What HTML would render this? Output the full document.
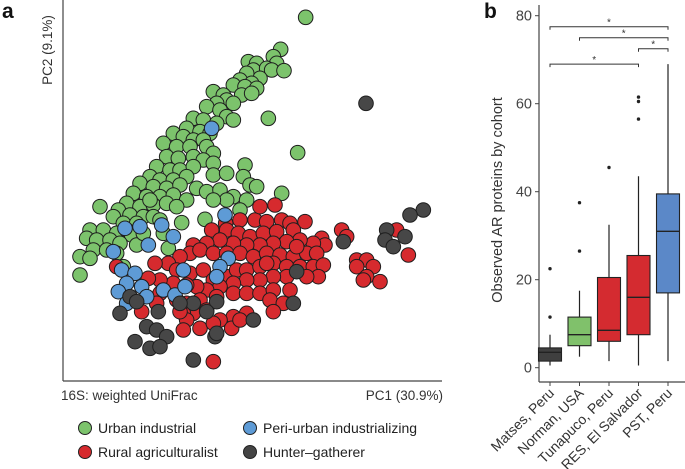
<!DOCTYPE html>
<html><head><meta charset="utf-8"><style>
html,body{margin:0;padding:0;background:#fff;}
svg{display:block;font-family:"Liberation Sans",sans-serif;}
</style></head><body>
<svg id="fig" width="685" height="469" viewBox="0 0 685 469">
<text x="2" y="18" font-size="21" font-weight="bold" fill="#111">a</text>
<text x="484" y="18" font-size="21" font-weight="bold" fill="#111">b</text>
<g id="scatter"></g>
<line x1="63" y1="0" x2="63" y2="381" stroke="#444" stroke-width="1.2"/>
<line x1="63" y1="381" x2="442" y2="381" stroke="#444" stroke-width="1.2"/>
<text transform="translate(52,50) rotate(-90)" text-anchor="middle" font-size="13.5" fill="#333">PC2 (9.1%)</text>
<text x="61" y="400" font-size="13.5" fill="#333">16S: weighted UniFrac</text>
<text x="443" y="400" text-anchor="end" font-size="13.5" fill="#333">PC1 (30.9%)</text>
<g>
<g><circle cx="85" cy="428" r="6.5" fill="#7cc36c" stroke="#222"/><text x="98" y="433" font-size="14" fill="#222">Urban industrial</text></g>
<g><circle cx="250" cy="428" r="6.5" fill="#5e9bd6" stroke="#222"/><text x="263" y="433" font-size="14" fill="#222">Peri-urban industrializing</text></g>
<g><circle cx="85" cy="452" r="6.5" fill="#d62a2e" stroke="#222"/><text x="98" y="457" font-size="14" fill="#222">Rural agriculturalist</text></g>
<g><circle cx="250" cy="452" r="6.5" fill="#444" stroke="#222"/><text x="263" y="457" font-size="14" fill="#222">Hunter–gatherer</text></g>
</g>
<g id="box"></g>
<text transform="translate(502,200) rotate(-90)" text-anchor="middle" font-size="14.5" fill="#333">Observed AR proteins by cohort</text>
</svg>
<script>
// Scatter data (PC1, PC2 in arbitrary plot units)
const greenPts=[[737,52],[662,148],[640,170],[650,190],[565,185],[590,190],[580,210],[620,205],[635,210],[672,212],[600,235],[560,220],[540,240],[575,250],[520,255],[555,260],[590,265],[460,275],[490,285],[545,285],[575,280],[500,300],[470,310],[440,320],[520,310],[480,330],[500,350],[400,355],[430,360],[470,370],[520,360],[625,355],[380,385],[420,395],[450,400],[340,400],[370,410],[400,420],[430,420],[310,430],[350,440],[390,440],[440,440],[460,460],[320,470],[355,475],[400,470],[430,480],[713,458],[290,500],[330,510],[360,510],[400,500],[460,490],[555,495],[270,530],[300,540],[340,540],[380,530],[460,525],[500,520],[240,550],[280,560],[320,565],[360,555],[550,530],[570,555],[220,580],[260,590],[300,590],[340,585],[410,565],[440,575],[480,570],[590,560],[200,610],[240,620],[280,615],[320,610],[520,590],[560,600],[665,580],[175,630],[210,645],[250,650],[540,630],[120,620],[160,650],[190,670],[230,670],[365,668],[435,658],[90,690],[130,690],[170,700],[200,690],[240,695],[80,715],[110,720],[150,720],[215,705],[325,745],[60,770],[100,750],[140,750],[180,730],[230,735],[90,775],[170,760],[60,825],[190,800],[310,700],[500,600],[460,600],[250,700],[280,650],[300,660],[270,600],[380,600],[350,620]];
const redPts=[[645,615],[497,670],[540,660],[585,660],[620,665],[665,660],[690,670],[735,665],[455,690],[500,690],[535,700],[570,710],[610,700],[650,695],[700,690],[845,690],[860,710],[785,715],[795,735],[760,730],[720,720],[680,725],[640,730],[600,735],[560,735],[520,730],[480,720],[440,730],[400,735],[390,760],[420,750],[460,760],[500,760],[540,760],[580,770],[620,760],[660,765],[700,770],[740,760],[770,760],[1010,690],[1045,765],[890,780],[920,780],[890,800],[940,800],[920,830],[960,845],[910,840],[360,770],[325,790],[285,790],[350,810],[390,820],[430,810],[460,840],[500,830],[530,810],[560,810],[600,800],[640,790],[680,800],[720,800],[760,800],[790,795],[775,830],[740,830],[680,830],[640,830],[600,840],[560,840],[520,850],[480,860],[440,870],[410,860],[380,855],[340,850],[300,840],[265,835],[170,800],[300,880],[350,900],[380,910],[420,900],[470,890],[520,880],[560,880],[600,880],[640,870],[690,870],[630,900],[670,910],[640,935],[560,940],[520,950],[480,960],[440,930],[400,940],[370,940],[380,960],[370,990],[420,985],[460,970],[515,985],[540,960],[360,935],[245,935],[290,910],[460,1085],[620,790],[710,740],[600,620]];
const bluePts=[[455,385],[495,645],[195,685],[240,680],[305,675],[340,710],[265,735],[160,755],[505,775],[480,800],[185,810],[225,820],[200,850],[175,875],[245,860],[200,910],[260,890],[310,870],[345,885],[375,860],[370,810],[470,830]];
const grayPts=[[918,310],[1090,630],[1050,645],[980,690],[1035,710],[975,720],[1000,740],[850,725],[710,815],[700,910],[580,960],[470,905],[440,935],[400,910],[210,890],[230,905],[180,940],[295,935],[260,980],[290,990],[320,1010],[225,1025],[270,1045],[300,1040],[465,1010],[400,1080],[360,910],[470,1000]];

// Boxplot data
const cohorts=["Matses, Peru","Norman, USA","Tunapuco, Peru","RES, El Salvador","PST, Peru"];
const q1=[1.5,5,6,7.5,17];
const med=[3.5,7.5,8.5,16,31];
const q3=[4.5,11.5,20.5,25.5,39.5];
const whiskLo=[0.5,2.5,1.5,0.5,1.5];
const whiskHi=[7.5,17.5,32.5,43.5,69];
const outliers=[[11.5,22.5],[26.5,37.5],[45.5],[56.5,60.5,61.5],[]];
const yTicks=[0,20,40,60,80];
const sigPairs=[[0,4,77.5],[1,4,75],[3,4,72.5],[0,3,69]];

const NS="http://www.w3.org/2000/svg";
function mk(tag,attrs,parent){const e=document.createElementNS(NS,tag);for(const k in attrs)e.setAttribute(k,attrs[k]);parent.appendChild(e);return e;}

const sx=v=>60+v/3;
const sy=v=>v/3;
const sc=document.getElementById('scatter');
const groups=[[greenPts,'#7cc36c','urban-industrial'],[redPts,'#d62a2e','rural-agriculturalist'],[bluePts,'#5e9bd6','peri-urban'],[grayPts,'#474747','hunter-gatherer']];
groups.forEach(([pts,col,nm])=>{
  pts.forEach(p=>{
    const c=mk('circle',{cx:sx(p[0]),cy:sy(p[1]),r:7.3,fill:col,stroke:'#1e1e1e','stroke-width':1},sc);
    
    
  });
});

const bx=document.getElementById('box');
const by=v=>367.7-v*4.4;
const bxc=i=>550+i*29.5;
const boxCols=['#3f3f3f','#80c16b','#d42b30','#d42b30','#5b88c8'];
mk('line',{x1:539,y1:5,x2:539,y2:382,stroke:'#444','stroke-width':1.2},bx);
mk('line',{x1:539,y1:382,x2:685,y2:382,stroke:'#444','stroke-width':1.2},bx);
yTicks.forEach(t=>{
  mk('line',{x1:535,y1:by(t),x2:539,y2:by(t),stroke:'#444'},bx);
  const tx=mk('text',{x:532,y:by(t)+5,'text-anchor':'end','font-size':14.5,fill:'#444'},bx);
  tx.textContent=t;
  
  
});
cohorts.forEach((c,i)=>{
  const x=bxc(i),w=23;
  const g=mk('g',{},bx);
  
  
  mk('line',{x1:x,y1:by(whiskLo[i]),x2:x,y2:by(whiskHi[i]),stroke:'#222','stroke-width':1.2},g);
  mk('rect',{x:x-w/2,y:by(q3[i]),width:w,height:by(q1[i])-by(q3[i]),fill:boxCols[i],stroke:'#222','stroke-width':1.1},g);
  mk('line',{x1:x-w/2,y1:by(med[i]),x2:x+w/2,y2:by(med[i]),stroke:'#222','stroke-width':1.3},g);
  outliers[i].forEach(o=>mk('circle',{cx:x,cy:by(o),r:1.7,fill:'#222'},g));
  mk('line',{x1:x,y1:382,x2:x,y2:386,stroke:'#444'},bx);
  const t=mk('text',{transform:`translate(${x+5},${394}) rotate(-45)`,'text-anchor':'end','font-size':14,fill:'#333'},bx);
  t.textContent=c;
  
  
});
sigPairs.forEach(([a,b,v])=>{
  const x1=bxc(a),x2=bxc(b),y=by(v);
  const g=mk('g',{},bx);
  
  
  mk('path',{d:`M${x1},${y+3}V${y}H${x2}V${y+3}`,fill:'none',stroke:'#333','stroke-width':1},g);
  const s=mk('text',{x:(x1+x2)/2,y:y-1,'text-anchor':'middle','font-size':10,fill:'#333'},g);
  s.textContent='*';
});
</script>
</body></html>
